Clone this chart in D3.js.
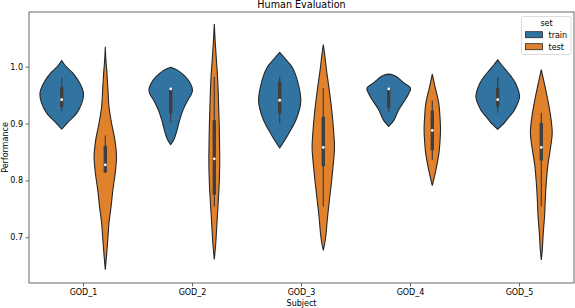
<!DOCTYPE html>
<html><head><meta charset="utf-8">
<script src="https://cdn.jsdelivr.net/npm/d3@7"></script>
<style>
body{margin:0;background:#fff}
svg{display:block}
text{font-family:"DejaVu Sans",sans-serif;fill:#000}
</style>
</head><body><svg id="c" width="575" height="308"></svg>
<script>
const subjects = ["GOD_1","GOD_2","GOD_3","GOD_4","GOD_5"];
const sets = ["train","test"];
const yTicks = [0.7, 0.8, 0.9, 1.0];
const yLimits = [0.6196, 1.0962];

// density profiles per subject: [performance value, estimated density]
const trainDensity = [
  [[1.011,0],[1.0,4.5],[0.988,11.7],[0.971,18.3],[0.953,22],[0.936,20.3],[0.918,15],[0.903,6.7],[0.890,0]],
  [[0.999,0],[0.994,6.7],[0.982,15],[0.970,20],[0.959,22],[0.950,20.5],[0.942,17.5],[0.924,12.5],[0.906,9],[0.889,6.5],[0.871,3],[0.863,0]],
  [[1.025,0],[1.015,5],[0.997,13.3],[0.968,19],[0.939,21.3],[0.909,17],[0.880,8.3],[0.865,3],[0.857,0]],
  [[0.987,0],[0.985,5],[0.982,8.3],[0.972,15],[0.962,22],[0.952,20],[0.942,16.7],[0.924,10],[0.906,5.3],[0.895,0]],
  [[1.012,0],[1.003,4],[0.994,8.3],[0.983,13.5],[0.971,18],[0.947,22],[0.924,17],[0.912,11.7],[0.898,5],[0.890,0]]
];
const testDensity = [
  [[1.035,0],[1.012,0.6],[0.988,1.7],[0.959,2.7],[0.930,3.7],[0.901,6.3],[0.871,9.7],[0.842,11.3],[0.813,10],[0.784,7.7],[0.754,5.8],[0.725,3.7],[0.696,2.5],[0.667,1.2],[0.643,0]],
  [[1.075,0],[1.041,1.0],[1.010,2.2],[0.982,3.3],[0.953,4],[0.924,4.5],[0.895,5],[0.866,5.3],[0.836,5.5],[0.807,5.2],[0.778,4.5],[0.749,3.5],[0.720,2.5],[0.690,1.5],[0.661,0]],
  [[1.039,0],[1.020,1.5],[0.997,3],[0.968,5.3],[0.939,7.5],[0.910,9.3],[0.880,10.7],[0.857,11.3],[0.822,9.7],[0.793,8],[0.763,6],[0.734,4.2],[0.705,2.7],[0.690,1.5],[0.677,0]],
  [[0.987,0],[0.965,2.7],[0.936,6.5],[0.910,7.8],[0.889,8.3],[0.870,7.8],[0.848,6.7],[0.819,3.7],[0.791,0]],
  [[0.995,0],[0.971,3],[0.942,6.5],[0.912,9.5],[0.883,11],[0.854,9],[0.825,6.5],[0.795,5],[0.766,4],[0.737,3.3],[0.708,2],[0.678,1],[0.660,0]]
];
// box stats: [whisker low, q1, median, q3, whisker high]
const trainBox = [
  [0.921,0.929,0.942,0.964,0.981],
  [0.901,0.918,0.961,0.962,0.962],
  [0.901,0.918,0.941,0.974,0.982],
  [0.921,0.927,0.961,0.962,0.962],
  [0.919,0.930,0.942,0.963,0.982]
];
const testBox = [
  [0.813,0.814,0.8275,0.861,0.879],
  [0.754,0.775,0.838,0.906,0.982],
  [0.754,0.825,0.858,0.912,0.962],
  [0.836,0.853,0.888,0.923,0.940],
  [0.754,0.835,0.858,0.901,0.919]
];
const colors = {train:"#3274a1", test:"#e1812c"};

const svg = d3.select("#c");
const L = 29, R = 574, T = 12, B = 283;
const x = d3.scaleBand().domain(subjects).range([L, R]);
const bw = x.bandwidth();
const hue = d3.scaleBand().domain(sets).range([-0.4*bw, 0.4*bw]);
const y = d3.scaleLinear().domain(yLimits).range([B, T]);
const maxD = d3.max([...trainDensity, ...testDensity].flat(), d => d[1]);
const w = d3.scaleLinear().domain([0, maxD]).range([0, 0.2*bw]);

const data = [];
subjects.forEach((s, i) => {
  data.push({s, set:"train", dens:trainDensity[i], box:trainBox[i]});
  data.push({s, set:"test", dens:testDensity[i], box:testBox[i]});
});

const g = svg.append("g");
data.forEach(d => {
  const cx = x(d.s) + bw/2 + hue(d.set) + hue.bandwidth()/2;
  const area = d3.area()
    .y(p => y(p[0]))
    .x0(p => cx - w(p[1]))
    .x1(p => cx + w(p[1]))
    .curve(d3.curveCatmullRom.alpha(0.5));
  g.append("path").attr("d", area(d.dens))
    .attr("fill", colors[d.set]).attr("stroke", "#262626").attr("stroke-width", 1.1);
  const [lo, q1, med, q3, hi] = d.box;
  g.append("line").attr("x1", cx).attr("x2", cx).attr("y1", y(lo)).attr("y2", y(hi))
    .attr("stroke", "#3f3f3f").attr("stroke-width", 1.2);
  g.append("rect").attr("x", cx - 1.7).attr("width", 3.4)
    .attr("y", y(q3)).attr("height", Math.max(1, y(q1) - y(q3)))
    .attr("fill", "#3f3f3f");
  g.append("circle").attr("cx", cx).attr("cy", y(med)).attr("r", 1.4).attr("fill", "#fff");
});

// axes
const ya = svg.append("g").attr("transform", `translate(${L},0)`)
  .call(d3.axisLeft(y).tickValues(yTicks).tickFormat(d3.format(".1f")).tickSize(3.5).tickPadding(2.5));
const xa = svg.append("g").attr("transform", `translate(0,${B})`)
  .call(d3.axisBottom(x).tickSize(3.5).tickPadding(2.5));
[ya, xa].forEach(a => {
  a.select(".domain").remove();
  a.selectAll("line").attr("stroke", "#444").attr("stroke-width", 0.8);
  a.selectAll("text").style("font-size", "8px").style("font-family", "DejaVu Sans");
});

svg.append("rect").attr("x", L).attr("y", T).attr("width", R - L).attr("height", B - T)
  .attr("fill", "none").attr("stroke", "#444").attr("stroke-width", 0.8);

svg.append("text").attr("x", (L+R)/2).attr("y", 7.8).attr("text-anchor", "middle")
  .style("font-size", "9.6px").text("Human Evaluation");
svg.append("text").attr("x", (L+R)/2).attr("y", 306).attr("text-anchor", "middle")
  .style("font-size", "8px").text("Subject");
svg.append("text").attr("transform", `translate(7.5,${(T+B)/2}) rotate(-90)`).attr("text-anchor", "middle")
  .style("font-size", "8px").text("Performance");

// legend
const lg = svg.append("g");
lg.append("rect").attr("x", 521.5).attr("y", 16.5).attr("width", 49.5).attr("height", 38).attr("rx", 2)
  .attr("fill", "#fff").attr("fill-opacity", 0.8).attr("stroke", "#d0d0d0").attr("stroke-width", 0.8);
lg.append("text").attr("x", 546.5).attr("y", 26).attr("text-anchor", "middle").style("font-size", "8px").text("set");
sets.forEach((s, i) => {
  lg.append("rect").attr("x", 525.5).attr("y", 31.7 + i*12).attr("width", 17).attr("height", 6)
    .attr("fill", colors[s]).attr("stroke", "#262626").attr("stroke-width", 0.8);
  lg.append("text").attr("x", 548.5).attr("y", 37.8 + i*12).style("font-size", "8px").text(s);
});
</script></body></html>
